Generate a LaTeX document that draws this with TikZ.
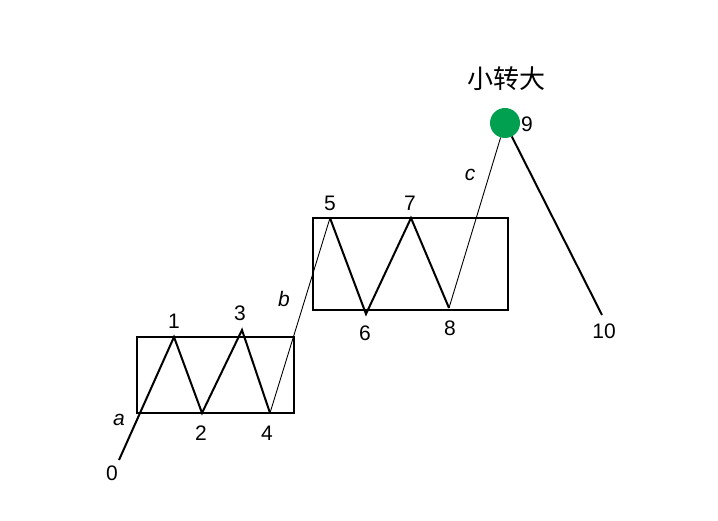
\documentclass[tikz,border=0pt]{standalone}
\usepackage{fontspec}
\setmainfont{Liberation Sans}
\newfontfamily\cjk{Noto Sans CJK SC}
\definecolor{dotgreen}{RGB}{0,160,80}
\begin{document}
\begin{tikzpicture}[x=1pt,y=-1pt,
  thickline/.style={line width=2pt,line join=miter},
  thinline/.style={line width=0.9pt},
  boxline/.style={line width=2pt},
  lbl/.style={font=\fontsize{21}{22}\selectfont,inner sep=0pt},
  ital/.style={font=\fontsize{21}{22}\selectfont\itshape,inner sep=0pt}]
\useasboundingbox (0,0) rectangle (718,521);
% points
\coordinate (p0) at (119,460);
\coordinate (p1) at (174,337);
\coordinate (p2) at (202,413);
\coordinate (p3) at (242,330);
\coordinate (p4) at (270,413);
\coordinate (p5) at (330,218);
\coordinate (p6) at (366,314);
\coordinate (p7) at (411,218);
\coordinate (p8) at (449,308);
\coordinate (p10) at (602,315);
% boxes
\draw[boxline] (137,337) rectangle (294,413);
\draw[boxline] (313,218) rectangle (508,310);
% wave
\draw[thickline] (p0) -- (p1) -- (p2) -- (p3) -- (p4);
\draw[thinline] (p4) -- (p5);
\draw[thickline] (p5) -- (p6) -- (p7) -- (p8);
\node[circle,fill=dotgreen,minimum size=30pt,inner sep=0pt] (p9) at (505,123) {};
\draw[thinline] (p8) -- (p9);
\draw[thickline] (p9) -- (p10);
% labels
\node[lbl] (l0) at (112,473) {0};
\node[lbl] (l1) at (174,321) {1};
\node[lbl] (l2) at (201,433) {2};
\node[lbl] (l3) at (240,313) {3};
\node[lbl] (l4) at (267,433) {4};
\node[lbl] (l5) at (330,203) {5};
\node[lbl] (l6) at (365,333) {6};
\node[lbl] (l7) at (410,203) {7};
\node[lbl] (l8) at (450,328) {8};
\node[lbl] (l9) at (527,124) {9};
\node[lbl] (l10) at (604,331) {10};
\node[ital] (la) at (119,420) {a};
\node[ital] (lb) at (284,299) {b};
\node[ital] (lc) at (470,175) {c};
\node[font=\cjk\fontsize{26}{27}\selectfont,inner sep=0pt] (title) at (506,79) {小转大};
\end{tikzpicture}
\end{document}
